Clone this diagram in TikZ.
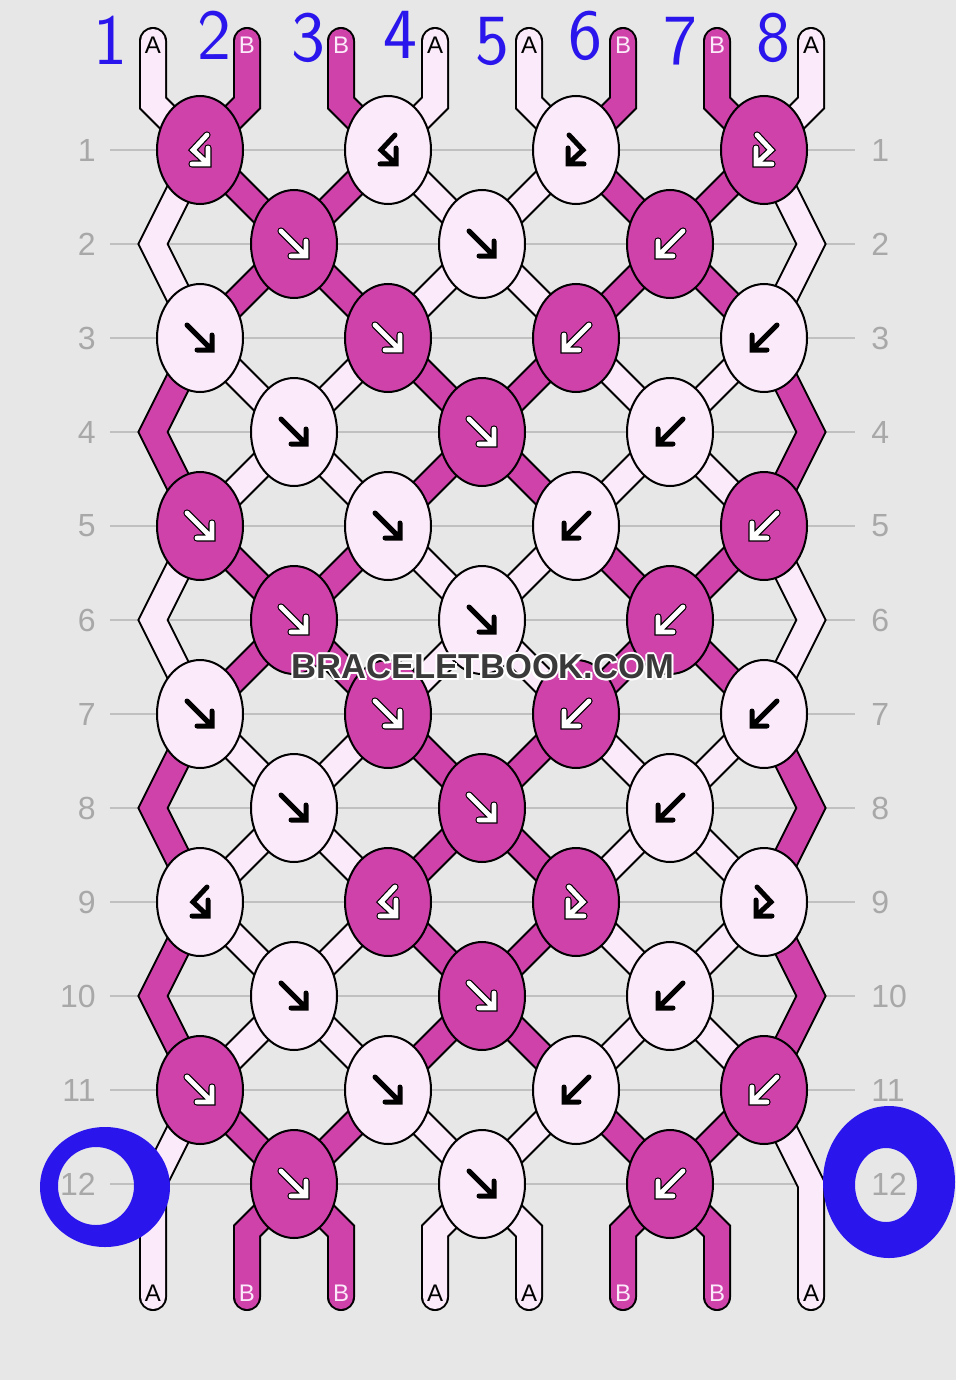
\documentclass[tikz,border=0pt]{standalone}
\usepackage{fontspec}
\setmainfont{Liberation Sans}
\usetikzlibrary{positioning,shapes.geometric}
\definecolor{bgray}{RGB}{231,231,231}
\definecolor{kmag}{RGB}{207,66,170}
\definecolor{kwht}{RGB}{251,234,249}
\definecolor{rule}{RGB}{192,192,192}
\definecolor{rowno}{RGB}{168,168,168}
\definecolor{pen}{RGB}{42,22,236}
\definecolor{wmgray}{RGB}{58,58,58}
\pgfdeclarelayer{ruling}
\pgfdeclarelayer{threads}
\pgfsetlayers{ruling,threads,main}
\tikzset{
    %Define style for knots
    knot/.style={
           ellipse,
           draw=black, line width=1pt,
           minimum width=43pt,
           minimum height=54pt,
           inner sep=0pt},
    mk/.style={knot, fill=kmag,
           kar/.style={draw=black, line width=0.6pt, double=white, double distance=2.4pt, line cap=round}},
    wk/.style={knot, fill=kwht,
           kar/.style={draw=black, line width=2.5pt, line cap=round}},
    % knot arrows
    fw/.style={path picture={\draw[kar, shift={(path picture bounding box.center)}]
           (-13,-13) -- (12,12) (12,-3) -- (12,12) -- (-3,12);}},
    bw/.style={path picture={\draw[kar, shift={(path picture bounding box.center)}]
           (13,-13) -- (-12,12) (-12,-3) -- (-12,12) -- (3,12);}},
    bf/.style={path picture={\draw[kar, shift={(path picture bounding box.center)}]
           (7,-15) -- (-7,0) -- (8,14) (8,-2) -- (8,14) -- (-8,14);}},
    fb/.style={path picture={\draw[kar, shift={(path picture bounding box.center)}]
           (-7,-15) -- (7,0) -- (-8,14) (-8,-2) -- (-8,14) -- (8,14);}},
    % Define thread style
    thread/.style={draw=black, line width=1pt, double distance=12pt, line cap=round},
    mt/.style={thread, double=kmag},
    wt/.style={thread, double=kwht},
    % labels
    rowlab/.style={text=rowno, inner sep=0pt, font=\fontsize{16}{16}\selectfont},
    ruleline/.style={draw=rule, line width=1pt},
    endlab/.style={inner sep=0pt, font=\fontsize{12}{12}\selectfont},
    hand/.style={text=pen, inner sep=0pt, font=\sffamily\fontsize{36}{36}\selectfont},
    wm/.style={inner sep=0pt, font=\bfseries\fontsize{17.3}{17.3}\selectfont}
}
\begin{document}
\begin{tikzpicture}[x=0.5pt, y=-0.5pt, on grid, node distance=47pt and 47pt]
\useasboundingbox (0,0) rectangle (956,1380);

% knots, row by row
\node[mk,bf] (k1-1) at (200,150) {};
\node[wk,bf,right=94pt of k1-1] (k1-3) {};
\node[wk,fb,right=94pt of k1-3] (k1-5) {};
\node[mk,fb,right=94pt of k1-5] (k1-7) {};

\node[mk,fw,below right=of k1-1] (k2-2) {};
\node[wk,fw,below right=of k1-3] (k2-4) {};
\node[mk,bw,below right=of k1-5] (k2-6) {};

\node[wk,fw,below left=of k2-2] (k3-1) {};
\node[mk,fw,below right=of k2-2] (k3-3) {};
\node[mk,bw,below right=of k2-4] (k3-5) {};
\node[wk,bw,below right=of k2-6] (k3-7) {};

\node[wk,fw,below right=of k3-1] (k4-2) {};
\node[mk,fw,below right=of k3-3] (k4-4) {};
\node[wk,bw,below right=of k3-5] (k4-6) {};

\node[mk,fw,below left=of k4-2] (k5-1) {};
\node[wk,fw,below right=of k4-2] (k5-3) {};
\node[wk,bw,below right=of k4-4] (k5-5) {};
\node[mk,bw,below right=of k4-6] (k5-7) {};

\node[mk,fw,below right=of k5-1] (k6-2) {};
\node[wk,fw,below right=of k5-3] (k6-4) {};
\node[mk,bw,below right=of k5-5] (k6-6) {};

\node[wk,fw,below left=of k6-2] (k7-1) {};
\node[mk,fw,below right=of k6-2] (k7-3) {};
\node[mk,bw,below right=of k6-4] (k7-5) {};
\node[wk,bw,below right=of k6-6] (k7-7) {};

\node[wk,fw,below right=of k7-1] (k8-2) {};
\node[mk,fw,below right=of k7-3] (k8-4) {};
\node[wk,bw,below right=of k7-5] (k8-6) {};

\node[wk,bf,below left=of k8-2] (k9-1) {};
\node[mk,bf,below right=of k8-2] (k9-3) {};
\node[mk,fb,below right=of k8-4] (k9-5) {};
\node[wk,fb,below right=of k8-6] (k9-7) {};

\node[wk,fw,below right=of k9-1] (k10-2) {};
\node[mk,fw,below right=of k9-3] (k10-4) {};
\node[wk,bw,below right=of k9-5] (k10-6) {};

\node[mk,fw,below left=of k10-2] (k11-1) {};
\node[wk,fw,below right=of k10-2] (k11-3) {};
\node[wk,bw,below right=of k10-4] (k11-5) {};
\node[mk,bw,below right=of k10-6] (k11-7) {};

\node[mk,fw,below right=of k11-1] (k12-2) {};
\node[wk,fw,below right=of k11-3] (k12-4) {};
\node[mk,bw,below right=of k11-5] (k12-6) {};

% turning points of the outer threads
\foreach \r/\y in {2/244,4/432,6/620,8/808,10/996,12/1184}{
  \coordinate (l\r) at (153,\y);
  \coordinate (r\r) at (811,\y);
}
% thread ends and their letters
\foreach \s/\x/\l/\c in {1/153/A/black,2/247/B/kwht,3/341/B/kwht,4/435/A/black,
                         5/529/A/black,6/623/B/kwht,7/717/B/kwht,8/811/A/black}{
  \coordinate (t\s) at (\x,41);
  \coordinate (u\s) at (\x,103);
  \coordinate (v\s) at (\x,1231);
  \coordinate (e\s) at (\x,1297);
  \node[endlab, text=\c] (ta\s) at (\x,45) {\l};
  \node[endlab, text=\c] (ba\s) at (\x,1293) {\l};
}

\begin{pgfonlayer}{ruling}
\fill[bgray] (0,0) rectangle (956,1380);
\foreach \r in {1,...,12}{
  \node[rowlab, anchor=east] (ln\r) at (96,{150+94*(\r-1)}) {\r};
  \node[rowlab, anchor=west] (rn\r) at (871,{150+94*(\r-1)}) {\r};
  \draw[ruleline, shorten <=7pt, shorten >=8pt] (ln\r) -- (rn\r);
}
\end{pgfonlayer}

\begin{pgfonlayer}{threads}
% top ends
\draw[wt] (t1) -- (u1) -- (k1-1.center);
\draw[mt] (t2) -- (u2) -- (k1-1.center);
\draw[mt] (t3) -- (u3) -- (k1-3.center);
\draw[wt] (t4) -- (u4) -- (k1-3.center);
\draw[wt] (t5) -- (u5) -- (k1-5.center);
\draw[mt] (t6) -- (u6) -- (k1-5.center);
\draw[mt] (t7) -- (u7) -- (k1-7.center);
\draw[wt] (t8) -- (u8) -- (k1-7.center);

% outer threads
\draw[wt] (k1-1.center) -- (l2) -- (k3-1.center);
\draw[mt] (k3-1.center) -- (l4) -- (k5-1.center);
\draw[wt] (k5-1.center) -- (l6) -- (k7-1.center);
\draw[mt] (k7-1.center) -- (l8) -- (k9-1.center);
\draw[mt] (k9-1.center) -- (l10) -- (k11-1.center);
\draw[wt] (k11-1.center) -- (l12) -- (e1);
\draw[wt] (k1-7.center) -- (r2) -- (k3-7.center);
\draw[mt] (k3-7.center) -- (r4) -- (k5-7.center);
\draw[wt] (k5-7.center) -- (r6) -- (k7-7.center);
\draw[mt] (k7-7.center) -- (r8) -- (k9-7.center);
\draw[mt] (k9-7.center) -- (r10) -- (k11-7.center);
\draw[wt] (k11-7.center) -- (r12) -- (e8);

 \path
    (k1-1.center) edge[mt] (k2-2.center)
    (k1-3.center) edge[mt] (k2-2.center) edge[wt] (k2-4.center)
    (k1-5.center) edge[wt] (k2-4.center) edge[mt] (k2-6.center)
    (k1-7.center) edge[mt] (k2-6.center)
    (k2-2.center) edge[mt] (k3-1.center) edge[mt] (k3-3.center)
    (k2-4.center) edge[wt] (k3-3.center) edge[wt] (k3-5.center)
    (k2-6.center) edge[mt] (k3-5.center) edge[mt] (k3-7.center)
    (k3-1.center) edge[wt] (k4-2.center)
    (k3-3.center) edge[wt] (k4-2.center) edge[mt] (k4-4.center)
    (k3-5.center) edge[mt] (k4-4.center) edge[wt] (k4-6.center)
    (k3-7.center) edge[wt] (k4-6.center)
    (k4-2.center) edge[wt] (k5-1.center) edge[wt] (k5-3.center)
    (k4-4.center) edge[mt] (k5-3.center) edge[mt] (k5-5.center)
    (k4-6.center) edge[wt] (k5-5.center) edge[wt] (k5-7.center)
    (k5-1.center) edge[mt] (k6-2.center)
    (k5-3.center) edge[mt] (k6-2.center) edge[wt] (k6-4.center)
    (k5-5.center) edge[wt] (k6-4.center) edge[mt] (k6-6.center)
    (k5-7.center) edge[mt] (k6-6.center)
    (k6-2.center) edge[mt] (k7-1.center) edge[mt] (k7-3.center)
    (k6-4.center) edge[wt] (k7-3.center) edge[wt] (k7-5.center)
    (k6-6.center) edge[mt] (k7-5.center) edge[mt] (k7-7.center)
    (k7-1.center) edge[wt] (k8-2.center)
    (k7-3.center) edge[wt] (k8-2.center) edge[mt] (k8-4.center)
    (k7-5.center) edge[mt] (k8-4.center) edge[wt] (k8-6.center)
    (k7-7.center) edge[wt] (k8-6.center)
    (k8-2.center) edge[wt] (k9-1.center) edge[wt] (k9-3.center)
    (k8-4.center) edge[mt] (k9-3.center) edge[mt] (k9-5.center)
    (k8-6.center) edge[wt] (k9-5.center) edge[wt] (k9-7.center)
    (k9-1.center) edge[wt] (k10-2.center)
    (k9-3.center) edge[wt] (k10-2.center) edge[mt] (k10-4.center)
    (k9-5.center) edge[mt] (k10-4.center) edge[wt] (k10-6.center)
    (k9-7.center) edge[wt] (k10-6.center)
    (k10-2.center) edge[wt] (k11-1.center) edge[wt] (k11-3.center)
    (k10-4.center) edge[mt] (k11-3.center) edge[mt] (k11-5.center)
    (k10-6.center) edge[wt] (k11-5.center) edge[wt] (k11-7.center)
    (k11-1.center) edge[mt] (k12-2.center)
    (k11-3.center) edge[mt] (k12-2.center) edge[wt] (k12-4.center)
    (k11-5.center) edge[wt] (k12-4.center) edge[mt] (k12-6.center)
    (k11-7.center) edge[mt] (k12-6.center);

% bottom ends
\draw[mt] (k12-2.center) -- (v2) -- (e2);
\draw[mt] (k12-2.center) -- (v3) -- (e3);
\draw[wt] (k12-4.center) -- (v4) -- (e4);
\draw[wt] (k12-4.center) -- (v5) -- (e5);
\draw[mt] (k12-6.center) -- (v6) -- (e6);
\draw[mt] (k12-6.center) -- (v7) -- (e7);
\end{pgfonlayer}

% watermark
\foreach \a [count=\i] in {0,45,...,315}
  \node[wm, text=white, shift={(\a:2)}] (halo\i) at (483,667) {BRACELETBOOK.COM};
\node[wm, text=wmgray] (wmark) at (483,667) {BRACELETBOOK.COM};

% hand-written marks
\node[hand] (h1) at (110,40) {1};
\node[hand] (h2) at (214,35) {2};
\node[hand] (h3) at (308,38) {3};
\node[hand] (h4) at (400,35) {4};
\node[hand] (h5) at (492,41) {5};
\node[hand] (h6) at (585,36) {6};
\node[hand] (h7) at (680,41) {7};
\node[hand] (h8) at (773,38) {8};
\fill[pen, even odd rule] (105,1187) ellipse [x radius=65, y radius=60]
                          (96,1186) ellipse [x radius=38, y radius=39];
\fill[pen, even odd rule] (889,1182) ellipse [x radius=66, y radius=76]
                          (886,1185) ellipse [x radius=31, y radius=37];

\end{tikzpicture}
\end{document}
